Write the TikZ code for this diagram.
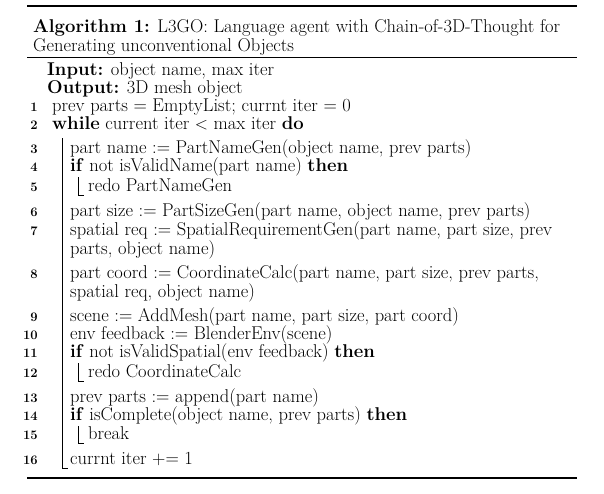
\documentclass[tikz,border=0pt]{standalone}
\begin{document}
\begin{tikzpicture}[x=1pt,y=-1pt,
  txt/.style={anchor=base west,inner sep=0pt,font=\fontsize{18.5}{21}\selectfont},
  num/.style={anchor=base east,inner sep=0pt,font=\fontsize{13}{15}\selectfont\bfseries},
  bar/.style={line width=0.6pt}]
\useasboundingbox (0,0) rectangle (604,493);
\draw[line width=1.2pt] (27,6) -- (577,6);
\draw[line width=0.6pt] (27,57) -- (577,57);
\draw[line width=1.2pt] (27,478) -- (577,478);
\node[txt] (t1) at (33,32) {\textbf{Algorithm 1:} L3GO: Language agent with Chain-of-3D-Thought for};
\node[txt] (t2) at (33,51) {Generating unconventional Objects};
\node[txt] (in) at (47,75) {\textbf{Input:} object name, max iter};
\node[txt] (out) at (47,93) {\textbf{Output:} 3D mesh object};
\foreach \n/\y/\x/\t in {
 1/111/52/{prev parts = EmptyList; currnt iter = 0},
 2/129/52/{\textbf{while} current iter $<$ max iter \textbf{do}},
 3/153/70/{part name := PartNameGen(object name, prev parts)},
 4/171/70/{\textbf{if} not isValidName(part name) \textbf{then}},
 5/191/88/{redo PartNameGen},
 6/216/70/{part size := PartSizeGen(part name, object name, prev parts)},
 7/235/70/{spatial req := SpatialRequirementGen(part name, part size, prev},
 8/278/70/{part coord := CoordinateCalc(part name, part size, prev parts,},
 9/321/70/{scene := AddMesh(part name, part size, part coord)},
 10/339/70/{env feedback := BlenderEnv(scene)},
 11/357/70/{\textbf{if} not isValidSpatial(env feedback) \textbf{then}},
 12/377/88/{redo CoordinateCalc},
 13/402/70/{prev parts := append(part name)},
 14/420/70/{\textbf{if} isComplete(object name, prev parts) \textbf{then}},
 15/439/88/{break},
 16/464/70/{currnt iter += 1}}
 {\node[num] (n\n) at (38,\y) {\n}; \node[txt] (l\n) at (\x,\y) {\t};}
\node[txt] (l7b) at (70,254) {parts, object name)};
\node[txt] (l8b) at (70,297) {spatial req, object name)};
\draw[bar] (62,138) -- (62,468) -- (68,468);
\draw[bar] (78,177) -- (78,195) -- (84,195);
\draw[bar] (78,363) -- (78,381) -- (84,381);
\draw[bar] (78,426) -- (78,443) -- (84,443);
\end{tikzpicture}
\end{document}
